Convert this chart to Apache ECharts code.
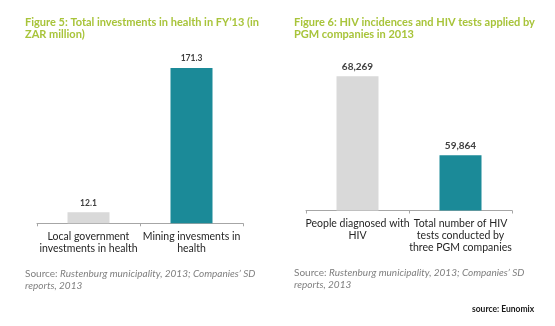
<!DOCTYPE html>
<html>
<head>
<meta charset="utf-8">
<script src="https://cdn.jsdelivr.net/npm/echarts@6/dist/echarts.min.js"></script>
<style>
  html, body { margin: 0; padding: 0; background: #ffffff; }
  #chart { width: 555px; height: 326px; }
</style>
</head>
<body>
<div id="chart"></div>
<script>
// Figure 5: investments in health (ZAR million)
const fig5Categories = ['Local government\ninvestments in health', 'Mining invesments in\nhealth'];
const fig5Values = [12.1, 171.3];
const fig5Labels = ['12.1', '171.3'];

// Figure 6: HIV incidences and HIV tests
const fig6Categories = ['People diagnosed with\nHIV', 'Total number of HIV\ntests conducted by\nthree PGM companies'];
const fig6Values = [68269, 59864];
const fig6Labels = ['68,269', '59,864'];

const barColors = ['#d9d9d9', '#1b8a98'];
const FONT = 'Lato, "Open Sans", sans-serif';
const titleColor = '#a8c43a';

function barData(values, labels, labelSize) {
  return values.map((v, i) => ({
    value: v,
    itemStyle: { color: barColors[i] },
    label: { formatter: labels[i], fontSize: labelSize }
  }));
}

const axisCommon = {
  type: 'category',
  axisLine: { lineStyle: { color: '#a6a6a6', width: 1 } },
  axisTick: { show: true, length: 3, lineStyle: { color: '#a6a6a6' } },
  axisLabel: { color: '#262626', fontFamily: FONT, fontSize: 10.5, lineHeight: 12, margin: 7, interval: 0 }
};
const yCommon = {
  type: 'value', show: false, splitLine: { show: false }
};
const labelCommon = {
  show: true, position: 'top', distance: 5, color: '#404040', fontFamily: FONT, fontWeight: 'bold'
};

const sourceRich = {
  n: { fill: '#7f7f7f', fontFamily: FONT, fontSize: 10, lineHeight: 11.5 },
  i: { fill: '#7f7f7f', fontFamily: FONT, fontSize: 10, fontStyle: 'italic', lineHeight: 11.5 }
};

const chart = echarts.init(document.getElementById('chart'), null, { renderer: 'canvas' });
chart.setOption({
  animation: false,
  backgroundColor: '#ffffff',
  grid: [
    { left: 37, top: 60, width: 206, height: 163.3 },
    { left: 306, top: 60, width: 206, height: 150.5 }
  ],
  xAxis: [
    Object.assign({ gridIndex: 0, data: fig5Categories }, axisCommon),
    Object.assign({ gridIndex: 1, data: fig6Categories }, axisCommon)
  ],
  yAxis: [
    Object.assign({ gridIndex: 0, min: 0, max: 180 }, yCommon),
    Object.assign({ gridIndex: 1, min: 54000, max: 70000 }, yCommon)
  ],
  series: [
    { type: 'bar', xAxisIndex: 0, yAxisIndex: 0, barWidth: 42,
      label: labelCommon, data: barData(fig5Values, fig5Labels, 8.5) },
    { type: 'bar', xAxisIndex: 1, yAxisIndex: 1, barWidth: 42,
      label: labelCommon, data: barData(fig6Values, fig6Labels, 10) }
  ],
  graphic: [
    { type: 'text', left: 25, top: 17, style: {
        text: 'Figure 5: Total investments in health in FY\u201913 (in\nZAR million)',
        fill: titleColor, font: 'bold 11px ' + FONT, lineHeight: 11.5 } },
    { type: 'text', left: 294, top: 17, style: {
        text: 'Figure 6: HIV incidences and HIV tests applied by\nPGM companies in 2013',
        fill: titleColor, font: 'bold 11px ' + FONT, lineHeight: 11.5 } },
    { type: 'text', left: 25, top: 269, style: {
        text: '{n|Source: }{i|Rustenburg municipality, 2013; Companies\u2019 SD}\n{i|reports, 2013}',
        rich: sourceRich } },
    { type: 'text', left: 294, top: 268, style: {
        text: '{n|Source: }{i|Rustenburg municipality, 2013; Companies\u2019 SD}\n{i|reports, 2013}',
        rich: sourceRich } },
    { type: 'text', left: 472, top: 305, style: {
        text: 'source: Eunomix', fill: '#1a1a1a', font: 'bold 8.5px ' + FONT } }
  ]
});
</script>
</body>
</html>
